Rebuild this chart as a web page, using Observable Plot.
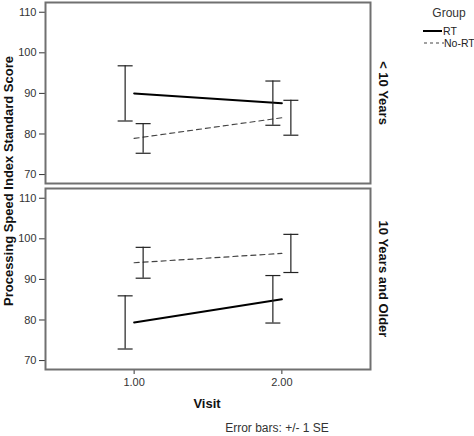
<!DOCTYPE html>
<html>
<head>
<meta charset="utf-8">
<script src="https://cdn.jsdelivr.net/npm/d3@7"></script>
<script src="https://cdn.jsdelivr.net/npm/@observablehq/plot@0.6"></script>
<style>
  html, body { margin: 0; padding: 0; background: #fff; }
  body { font-family: "Liberation Sans", Arial, sans-serif; }
  #wrap { position: relative; width: 474px; height: 436px; overflow: hidden; }
  #wrap svg { display: block; }
  .abs { position: absolute; white-space: nowrap; color: #222; }
  #ytitle { left: 8px; top: 181px; transform: translate(-50%, -50%) rotate(-90deg); font-weight: bold; font-size: 13px; color: #111; }
  #xtitle { left: 207px; top: 403px; transform: translate(-50%, -50%); font-weight: bold; font-size: 13px; color: #111; }
  #caption { left: 277px; top: 428px; transform: translate(-50%, -50%); font-size: 12px; color: #333; }
  #legend-title { left: 449px; top: 13px; transform: translate(-50%, -50%); font-size: 12px; color: #333; }
  .lg-row { left: 423px; height: 12px; font-size: 10.5px; color: #222; display: flex; align-items: center; }
  .lg-row svg { display: block; }
</style>
</head>
<body>
<div id="wrap">
  <div id="ytitle" class="abs">Processing Speed Index Standard Score</div>
  <div id="xtitle" class="abs">Visit</div>
  <div id="legend-title" class="abs">Group</div>
  <div class="abs lg-row" style="top:25px;"><svg width="19" height="12"><line x1="0" y1="6" x2="19" y2="6" stroke="#000" stroke-width="2"/></svg><span style="margin-left:1px">RT</span></div>
  <div class="abs lg-row" style="top:37px;"><svg width="21" height="12"><line x1="1" y1="6" x2="21" y2="6" stroke="#444" stroke-width="1.2" stroke-dasharray="3,3"/></svg><span>No-RT</span></div>
  <div id="caption" class="abs">Error bars: +/- 1 SE</div>
</div>
<script>
// Age groups (panels), treatment groups and visits
const ageGroups = ["< 10 Years", "10 Years and Older"];
const groups = ["RT", "No-RT"];
const visits = [1, 2];
const yTicks = [70, 80, 90, 100, 110];

// Mean Processing Speed Index standard score and standard error per visit
const rtUnder10 = [90.0, 87.6];
const rtUnder10SE = [6.8, 5.45];
const noRtUnder10 = [78.9, 84.0];
const noRtUnder10SE = [3.65, 4.3];
const rt10Plus = [79.4, 85.1];
const rt10PlusSE = [6.55, 5.85];
const noRt10Plus = [94.1, 96.4];
const noRt10PlusSE = [3.8, 4.7];

const series = [
  {age: ageGroups[0], group: groups[0], mean: rtUnder10, se: rtUnder10SE},
  {age: ageGroups[0], group: groups[1], mean: noRtUnder10, se: noRtUnder10SE},
  {age: ageGroups[1], group: groups[0], mean: rt10Plus, se: rt10PlusSE},
  {age: ageGroups[1], group: groups[1], mean: noRt10Plus, se: noRt10PlusSE}
];

const rows = series.flatMap(s => visits.map((v, i) => ({
  age: s.age, group: s.group, visit: v, mean: s.mean[i],
  lo: s.mean[i] - s.se[i], hi: s.mean[i] + s.se[i]
})));
const rt = rows.filter(d => d.group === "RT");
const noRt = rows.filter(d => d.group === "No-RT");

// Horizontal cap used at the ends of each error bar
const cap = {
  draw(ctx, size) {
    const w = Math.sqrt(size / Math.PI);
    ctx.moveTo(-w, 0);
    ctx.lineTo(w, 0);
  }
};

function errorBars(data, dx) {
  return [
    Plot.ruleX(data, {x: "visit", y1: "lo", y2: "hi", fy: "age", dx, stroke: "#222", strokeWidth: 1.2}),
    Plot.dot(data, {x: "visit", y: "lo", fy: "age", dx, symbol: cap, r: 7.5, fill: "none", stroke: "#222", strokeWidth: 1.2}),
    Plot.dot(data, {x: "visit", y: "hi", fy: "age", dx, symbol: cap, r: 7.5, fill: "none", stroke: "#222", strokeWidth: 1.2})
  ];
}

const chart = Plot.plot({
  width: 474,
  height: 412,
  marginTop: 1,
  marginLeft: 45,
  marginRight: 104,
  marginBottom: 43,
  style: {fontFamily: "Liberation Sans, Arial, sans-serif", fontSize: "11px", color: "#333", background: "#fff"},
  x: {domain: [0.4, 2.6], ticks: visits, tickFormat: d3.format(".2f"), tickSize: 5, label: null},
  y: {domain: [67.8, 112.4], ticks: yTicks, tickSize: 6, label: null},
  fy: {domain: ageGroups, axis: null, paddingInner: 0.027, paddingOuter: 0},
  marks: [
    Plot.line(rt, {x: "visit", y: "mean", fy: "age", z: "age", stroke: "#000", strokeWidth: 2}),
    Plot.line(noRt, {x: "visit", y: "mean", fy: "age", z: "age", stroke: "#444", strokeWidth: 1.2, strokeDasharray: "5,4"}),
    ...errorBars(rt, -9),
    ...errorBars(noRt, 9),
    Plot.text(ageGroups, {fy: d => d, text: d => d, frameAnchor: "right", textAnchor: "middle", dx: 13, rotate: 90, fontWeight: "bold", fontSize: 13, fill: "#111"}),
    Plot.frame({stroke: "#707070", strokeWidth: 2})
  ]
});

document.getElementById("wrap").prepend(chart);
</script>
</body>
</html>
